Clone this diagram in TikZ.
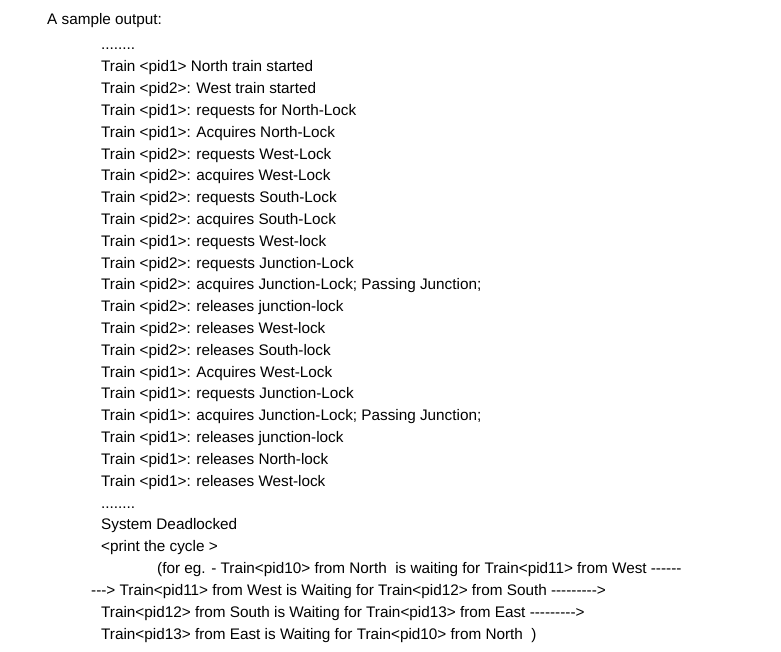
\documentclass[tikz,border=0pt]{standalone}
\usepackage{fontspec}
\setmainfont{Liberation Sans}
\begin{document}
\begin{tikzpicture}[x=1pt,y=1pt,txt/.style={anchor=base west,inner sep=0pt,font=\fontsize{15.3}{18}\selectfont}]
\useasboundingbox[fill=white] (0,0) rectangle (781,651);
\node[txt] (h) at (47,651-25) {A sample output:};
\node[txt] (d1) at (101,651-50) {........};
\foreach \i/\t in {
0/{Train <pid1> North train started},
1/{Train <pid2>: West train started},
2/{Train <pid1>: requests for North-Lock},
3/{Train <pid1>: Acquires North-Lock},
4/{Train <pid2>: requests West-Lock},
5/{Train <pid2>: acquires West-Lock},
6/{Train <pid2>: requests South-Lock},
7/{Train <pid2>: acquires South-Lock},
8/{Train <pid1>: requests West-lock},
9/{Train <pid2>: requests Junction-Lock},
10/{Train <pid2>: acquires Junction-Lock; Passing Junction;},
11/{Train <pid2>: releases junction-lock},
12/{Train <pid2>: releases West-lock},
13/{Train <pid2>: releases South-lock},
14/{Train <pid1>: Acquires West-Lock},
15/{Train <pid1>: requests Junction-Lock},
16/{Train <pid1>: acquires Junction-Lock; Passing Junction;},
17/{Train <pid1>: releases junction-lock},
18/{Train <pid1>: releases North-lock},
19/{Train <pid1>: releases West-lock}}
  \node[txt] (l\i) at (101,651-72-21.8*\i) {\t};
\node[txt] (d2) at (101,651-508) {........};
\node[txt] (s1) at (101,651-529) {System Deadlocked};
\node[txt] (s2) at (101,651-551) {<print the cycle >};
\node[txt] (s3) at (157,651-573) {(for eg. - Train<pid10> from North \ is waiting for Train<pid11> from West -{}-{}-{}-{}-{}-};
\node[txt] (s4) at (91,651-595) {-{}-{}-> Train<pid11> from West is Waiting for Train<pid12> from South -{}-{}-{}-{}-{}-{}-{}-{}->};
\node[txt] (s5) at (101,651-617) {Train<pid12> from South is Waiting for Train<pid13> from East -{}-{}-{}-{}-{}-{}-{}-{}->};
\node[txt] (s6) at (101,651-639) {Train<pid13> from East is Waiting for Train<pid10> from North \ )};
\end{tikzpicture}
\end{document}
